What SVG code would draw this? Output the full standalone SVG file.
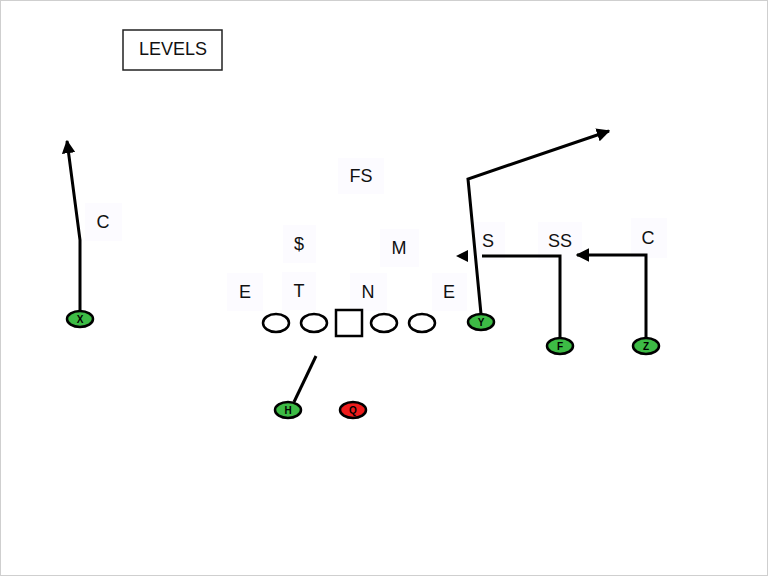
<svg xmlns="http://www.w3.org/2000/svg" width="768" height="576" viewBox="0 0 768 576">
<style>
.lbl{font-family:"Liberation Sans",Arial,sans-serif;font-size:18px;fill:#111;text-anchor:middle;dominant-baseline:central}
.lb{fill:#fcfbff}
.pl{stroke:#000;stroke-width:2.5}
.g{fill:#3dbb45}
.r{fill:#ee1c1c}
.pt{font-family:"Liberation Sans",Arial,sans-serif;font-size:10px;font-weight:bold;fill:#000;text-anchor:middle;dominant-baseline:central}
.ol{fill:#fff;stroke:#000;stroke-width:2.5}
.rt{fill:none;stroke:#000;stroke-width:3;stroke-linejoin:miter}
</style>
<defs>
<marker id="ah" viewBox="0 0 10 10" refX="9" refY="5" markerWidth="4.5" markerHeight="4.5" orient="auto" markerUnits="strokeWidth">
<path d="M0,0 L10,5 L0,10 z" fill="#000"/>
</marker>
</defs>
<rect x="0.5" y="0.5" width="767" height="575" fill="#fff" stroke="#cfcfcf"/>
<g id="title">
<rect x="123" y="30" width="99" height="40" fill="#fff" stroke="#222" stroke-width="1.5"/>
<text class="lbl" x="173" y="49" font-size="20">LEVELS</text>
</g>
<g id="defense">
<g id="d-C1"><rect class="lb" x="85" y="203" width="37" height="38"/><text class="lbl" x="103" y="222">C</text></g>
<g id="d-FS"><rect class="lb" x="338" y="158" width="46" height="36"/><text class="lbl" x="361" y="176">FS</text></g>
<g id="d-dollar"><rect class="lb" x="283" y="225" width="33" height="38"/><text class="lbl" x="299" y="244">$</text></g>
<g id="d-M"><rect class="lb" x="380" y="229" width="39" height="38"/><text class="lbl" x="399" y="248">M</text></g>
<g id="d-E1"><rect class="lb" x="227" y="273" width="36" height="38"/><text class="lbl" x="245" y="292">E</text></g>
<g id="d-T"><rect class="lb" x="282" y="272" width="34" height="38"/><text class="lbl" x="299" y="291">T</text></g>
<g id="d-N"><rect class="lb" x="350" y="273" width="37" height="38"/><text class="lbl" x="368" y="292">N</text></g>
<g id="d-E2"><rect class="lb" x="432" y="273" width="35" height="38"/><text class="lbl" x="449" y="292">E</text></g>
<g id="d-S"><rect class="lb" x="472" y="222" width="33" height="38"/><text class="lbl" x="488" y="241">S</text></g>
<g id="d-SS"><rect class="lb" x="538" y="222" width="44" height="38"/><text class="lbl" x="560" y="241">SS</text></g>
<g id="d-C2"><rect class="lb" x="631" y="218" width="36" height="40"/><text class="lbl" x="648" y="238">C</text></g>
</g>
<g id="connectors">
<polyline class="rt" points="80,311 80,240 67,141" marker-end="url(#ah)"/>
<polyline class="rt" points="481,314 468,179 609,131" marker-end="url(#ah)"/>
<polyline class="rt" points="560,338 560,256 482,256"/>
<polygon points="456,256 468,250 468,262" fill="#000"/>
<polyline class="rt" points="646,338 646,255 577,255" marker-end="url(#ah)"/>
<line class="rt" x1="294" y1="402" x2="316" y2="356"/>
</g>
<g id="oline">
<ellipse class="ol" cx="276" cy="323" rx="13" ry="9"/>
<ellipse class="ol" cx="314" cy="323" rx="13" ry="9"/>
<rect class="ol" x="336" y="310" width="26" height="26"/>
<ellipse class="ol" cx="384" cy="323" rx="13" ry="9"/>
<ellipse class="ol" cx="422" cy="323" rx="13" ry="9"/>
</g>
<g id="X"><ellipse class="g pl" cx="80" cy="319" rx="13" ry="8"/><text class="pt" x="80" y="319.5">X</text></g>
<g id="Y"><ellipse class="g pl" cx="481" cy="322" rx="13" ry="8"/><text class="pt" x="481" y="322.5">Y</text></g>
<g id="F"><ellipse class="g pl" cx="560" cy="346" rx="13" ry="8"/><text class="pt" x="560" y="346.5">F</text></g>
<g id="Z"><ellipse class="g pl" cx="646" cy="346" rx="13" ry="8"/><text class="pt" x="646" y="346.5">Z</text></g>
<g id="H"><ellipse class="g pl" cx="288" cy="410" rx="13" ry="8"/><text class="pt" x="288" y="410.5">H</text></g>
<g id="Q"><ellipse class="r pl" cx="353" cy="410" rx="13" ry="8"/><text class="pt" x="353" y="410.5">Q</text></g>
</svg>
